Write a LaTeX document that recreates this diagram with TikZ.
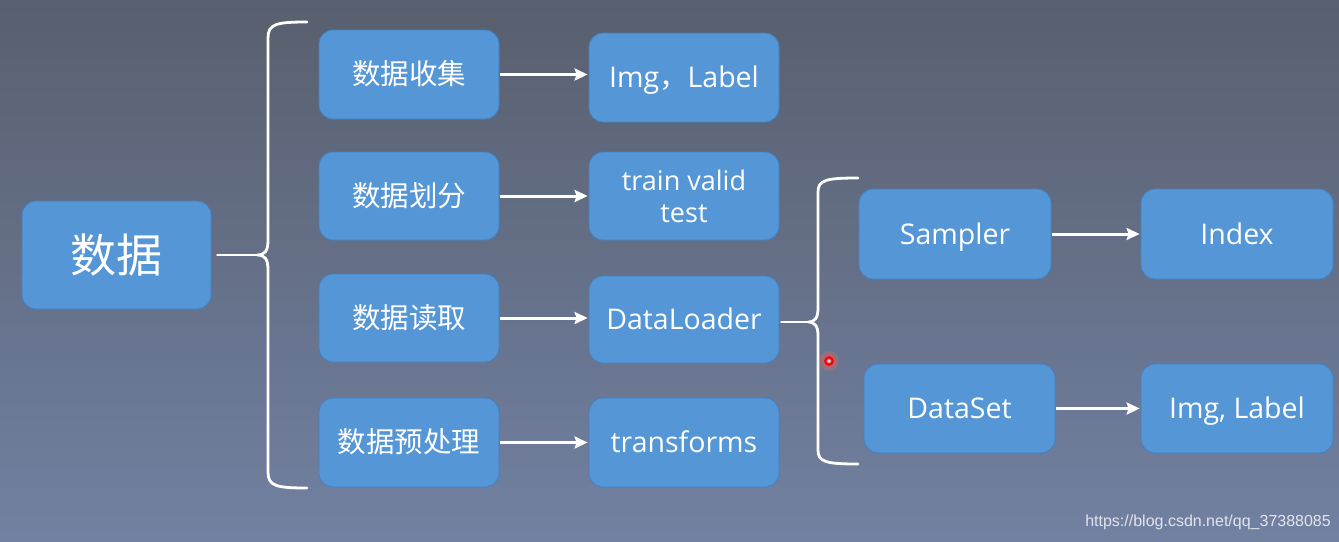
\documentclass[tikz,border=0pt]{standalone}
\usepackage{fontspec}
\setmainfont{Open Sans}
\newfontfamily\cjk{Noto Sans CJK SC}
\newfontfamily\urlfont{Liberation Sans}
\usetikzlibrary{arrows.meta}
\definecolor{boxblue}{RGB}{85,150,214}
\definecolor{boxedge}{RGB}{68,128,192}
\definecolor{bgtop}{RGB}{88,95,110}
\definecolor{bgbot}{RGB}{114,129,162}
\definecolor{wm}{RGB}{225,228,236}
\tikzset{
  box/.style={rectangle, rounded corners=14pt, fill=boxblue, draw=boxedge, line width=0.8pt,
    text=white, inner sep=0pt, align=center, text height=26pt, text depth=6pt,
    font=\fontsize{28.5}{32}\selectfont},
  cjkbox/.style={box, font=\cjk\fontsize{28.5}{32}\selectfont},
  arr/.style={draw=white, line width=3pt, -{Stealth[length=13pt,width=12pt,inset=2pt]}, shorten >=1pt, shorten <=1pt},
  brace/.style={draw=white, line width=2.8pt, line cap=round, line join=round}
}
\begin{document}
\begin{tikzpicture}[x=1pt,y=-1pt]
\shade[top color=bgtop, bottom color=bgbot] (0,0) rectangle (1339,541);
\useasboundingbox (0,0) rectangle (1339,541);

% nodes
\node[cjkbox, minimum width=189pt, minimum height=108pt, text height=40pt, text depth=5pt, font=\cjk\fontsize{46}{50}\selectfont] (root) at (116.5,255) {数据};

\node[cjkbox, minimum width=180pt, minimum height=89pt] (b1) at (409,74.5) {数据收集};
\node[cjkbox, minimum width=180pt, minimum height=88pt] (b2) at (409,196) {数据划分};
\node[cjkbox, minimum width=180pt, minimum height=88pt] (b3) at (409,318) {数据读取};
\node[cjkbox, minimum width=180pt, minimum height=89pt] (b4) at (409,442.5) {数据预处理};

\node[box, minimum width=190pt, minimum height=89pt] (c1) at (684,77.5) {Img{\cjk ，}Label};
\node[box, minimum width=190pt, minimum height=88pt, text height=, text depth=, font=\fontsize{27}{32}\selectfont] (c2) at (684,196) {train valid\\test};
\node[box, minimum width=190pt, minimum height=87pt] (c3) at (684,319.5) {DataLoader};
\node[box, minimum width=190pt, minimum height=89pt] (c4) at (684,442.5) {transforms};

\node[box, minimum width=192pt, minimum height=90pt] (d1) at (955,234) {Sampler};
\node[box, minimum width=191pt, minimum height=89pt] (d2) at (959.5,408.5) {DataSet};
\node[box, minimum width=192pt, minimum height=90pt] (e1) at (1237,234) {Index};
\node[box, minimum width=192pt, minimum height=89pt] (e2) at (1237,408.5) {Img, Label};

% arrows
\foreach \a/\b in {b1/c1,b2/c2,b3/c3,b4/c4,d1/e1,d2/e2}
  \draw[arr] (\a.east) -- (\a.east -| \b.west);

% brace 1
\coordinate (t1) at (257,255);
\draw[brace] (root.east) ++(6,0) -- (t1);
\draw[brace] (307,22) .. controls (276,22) and (268,24) .. (268,38) -- (268,240)
  .. controls (268,251) and (265,255) .. (t1)
  .. controls (265,255) and (268,259) .. (268,270) -- (268,472)
  .. controls (268,486) and (276,488) .. (307,488);

% brace 2
\coordinate (t2) at (808,322);
\draw[brace] (c3.east |- t2) ++(2,0) -- (t2);
\draw[brace] (858,178) .. controls (826,178) and (818,180) .. (818,192) -- (818,308)
  .. controls (818,318) and (815,322) .. (t2)
  .. controls (815,322) and (818,326) .. (818,336) -- (818,450)
  .. controls (818,462) and (826,464) .. (858,464);

% laser pointer dot
\fill[red!60!white, opacity=0.25] (829,361) circle (10);
\fill[red!70!white, opacity=0.35] (829,361) circle (7);
\draw[red, line width=2pt] (829,361) circle (3.8);
\fill[red!20!white] (829,361) circle (1.8);

% watermark
\node[anchor=east, text=wm, inner sep=0pt, font=\urlfont\fontsize{16}{18}\selectfont] (wmk) at (1331,522) {https://blog.csdn.net/qq\_37388085};
\end{tikzpicture}
\end{document}
